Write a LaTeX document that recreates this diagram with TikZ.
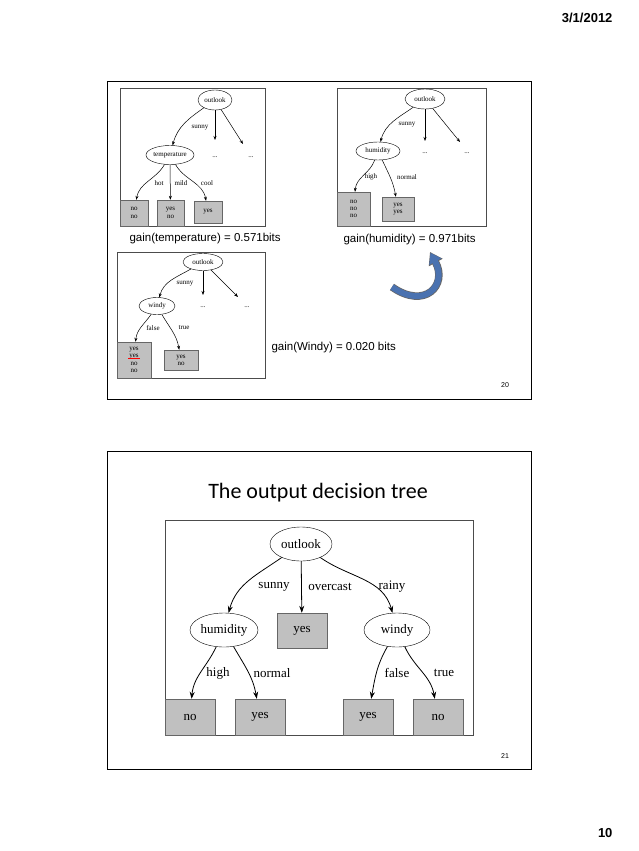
\documentclass[tikz,border=0pt]{standalone}
\usepackage{fontspec}
\setmainfont{Liberation Serif}
\newfontfamily\arial{Liberation Sans}
\newfontfamily\calibri{Carlito}
\usetikzlibrary{arrows.meta}
\definecolor{leafgray}{HTML}{C0C0C0}
\definecolor{bluearr}{HTML}{4A72B0}
\tikzset{
 every picture/.style={x=1pt,y=-1pt},
 frm/.style={draw=black,line width=1pt},
 tbox/.style={draw=black!70,line width=0.8pt},
 ell/.style={draw,ellipse,inner sep=0pt},
 lf/.style={draw=black!60,fill=leafgray,inner sep=0pt,align=center},
 ar/.style={-{Stealth[length=4pt,width=3pt]},line width=0.5pt},
 arb/.style={-{Stealth[length=7pt,width=5pt]},line width=0.8pt},
 sm/.style={font=\fontsize{7}{7}\selectfont},
 big/.style={font=\fontsize{13}{13}\selectfont},
 gain/.style={font=\arial\fontsize{11.5}{12}\selectfont,anchor=west},
}
\usetikzlibrary{shapes.geometric}
\begin{document}
\begin{tikzpicture}
\useasboundingbox (0,0) rectangle (638,851);
\fill[white] (0,0) rectangle (638,851);
\node[font=\arial\bfseries\fontsize{13}{13}\selectfont,anchor=east] (date) at (616,18) {3/1/2012};
\node[font=\arial\bfseries\fontsize{13}{13}\selectfont,anchor=east] (pg) at (616,833) {10};
% slide 1
\draw[frm] (107,81) rectangle (531,399);
\node[font=\arial\fontsize{7}{7}\selectfont] (n20) at (505,385) {20};
% tree 1
\draw[tbox] (120,88) rectangle (265,226);
\node[ell,sm,minimum width=34,minimum height=20] (o1) at (215,100) {outlook};
\node[ell,sm,minimum width=48,minimum height=19] (t1) at (170,155) {temperature};
\node[sm] (d1a) at (215,157) {...};
\node[sm] (d1b) at (251,157) {...};
\coordinate (e1a) at (215,140);
\coordinate (e1b) at (243,144);
\node[sm] (s1) at (200,128) {sunny};
\draw[ar] (o1) to[out=215,in=75] (t1);
\draw[ar] (o1) -- (e1a);
\draw[ar] (o1) -- (e1b);
\node[lf,sm,minimum width=28,minimum height=26] (l1a) at (134,213) {no\\[1pt]no};
\node[lf,sm,minimum width=27,minimum height=26] (l1b) at (170.5,213) {yes\\[1pt]no};
\node[lf,sm,minimum width=28,minimum height=22] (l1c) at (208,212) {yes};
\draw[ar] (t1) to[out=240,in=80] (l1a);
\draw[ar] (t1) -- (l1b);
\draw[ar] (t1) to[out=-60,in=100] (l1c);
\node[sm] at (159,183) {hot};
\node[sm] at (181,183) {mild};
\node[sm] at (207,183) {cool};
\node[gain] (g1) at (126,239) {gain(temperature) = 0.571bits};
% tree 2
\draw[tbox] (337,88) rectangle (486,226);
\node[ell,sm,minimum width=40,minimum height=20] (o2) at (425,99) {outlook};
\node[ell,sm,minimum width=44,minimum height=18] (h2) at (378,151) {humidity};
\node[sm] at (425,153) {...};
\node[sm] at (467,153) {...};
\coordinate (e2a) at (425,141);
\coordinate (e2b) at (460,142);
\node[sm] at (407,125) {sunny};
\draw[ar] (o2) to[out=215,in=75] (h2);
\draw[ar] (o2) -- (e2a);
\draw[ar] (o2) -- (e2b);
\node[lf,sm,minimum width=33,minimum height=34] (l2a) at (353.5,209) {no\\[0pt]no\\[0pt]no};
\node[lf,sm,minimum width=32,minimum height=24] (l2b) at (398,209) {yes\\[0pt]yes};
\draw[ar] (h2) to[out=250,in=85] (l2a);
\draw[ar] (h2) to[out=-65,in=100] (l2b);
\node[sm] at (371,177) {high};
\node[sm] at (407,177) {normal};
\node[gain] (g2) at (340,240) {gain(humidity) = 0.971bits};
% tree 3
\draw[tbox] (117,252) rectangle (265,378);
\node[ell,sm,minimum width=40,minimum height=17] (o3) at (203,262) {outlook};
\node[ell,sm,minimum width=36,minimum height=17] (w3) at (157,306) {windy};
\node[sm] at (203,307) {...};
\node[sm] at (247,307) {...};
\coordinate (e3a) at (203,295);
\coordinate (e3b) at (238,297);
\node[sm] at (185,284) {sunny};
\draw[ar] (o3) to[out=210,in=75] (w3);
\draw[ar] (o3) -- (e3a);
\draw[ar] (o3) -- (e3b);
\node[lf,sm,minimum width=34,minimum height=36,font=\fontsize{7}{7.5}\selectfont] (l3a) at (134,360) {yes\\yes\\no\\no};
\draw[red,line width=1pt] (128,358) -- (140,358);
\node[lf,sm,minimum width=34,minimum height=20] (l3b) at (181,360) {yes\\no};
\draw[ar] (w3) to[out=235,in=85] (l3a);
\draw[ar] (w3) to[out=-60,in=100] (l3b);
\node[sm] at (153,328) {false};
\node[sm] at (184,328) {true};
\node[gain] (g3) at (268,348) {gain(Windy) = 0.020 bits};
% blue curved arrow
\coordinate (bs) at (392,287);
\coordinate (be) at (430,252);
\draw[draw=black!60,line width=7.5pt,-{Triangle[length=12pt,width=15pt]}] (bs) .. controls (425,310) and (448,285) .. (be);
\draw[bluearr,line width=6pt,-{Triangle[length=10pt,width=13pt]},shorten >=1pt] (bs) .. controls (425,310) and (448,285) .. (be);
% slide 2
\draw[frm] (107,451) rectangle (531,769);
\node[font=\calibri\fontsize{22}{22}\selectfont] (title) at (318,493) {The output decision tree};
\node[font=\arial\fontsize{7}{7}\selectfont] (n21) at (505,756) {21};
\draw[tbox] (165,520) rectangle (473,735);
\node[ell,big,minimum width=62,minimum height=34] (o) at (301,544) {outlook};
\node[ell,big,minimum width=68,minimum height=34] (hu) at (224,630) {humidity};
\node[lf,big,minimum width=50,minimum height=35] (yc) at (302,630.5) {yes};
\node[ell,big,minimum width=66,minimum height=34] (wi) at (397,630) {windy};
\draw[arb] (o) to[out=215,in=75] (hu);
\draw[arb] (o) -- (yc);
\draw[arb] (o) to[out=-35,in=105] (wi);
\node[big] at (274,587) {sunny};
\node[big] at (330,587) {overcast};
\node[big] at (392,587) {rainy};
\node[lf,big,minimum width=50,minimum height=36] (la) at (190,717) {no};
\node[lf,big,minimum width=50,minimum height=36] (lb) at (260,717) {yes};
\node[lf,big,minimum width=50,minimum height=36] (lc) at (368,717) {yes};
\node[lf,big,minimum width=50,minimum height=36] (ld) at (438,717) {no};
\draw[arb] (hu) to[out=245,in=85] (la);
\draw[arb] (hu) to[out=-60,in=100] (lb);
\draw[arb] (wi) to[out=240,in=80] (lc);
\draw[arb] (wi) to[out=-65,in=100] (ld);
\node[big] at (218,673) {high};
\node[big] at (272,673) {normal};
\node[big] at (397,673) {false};
\node[big] at (444,673) {true};
\end{tikzpicture}
\end{document}
